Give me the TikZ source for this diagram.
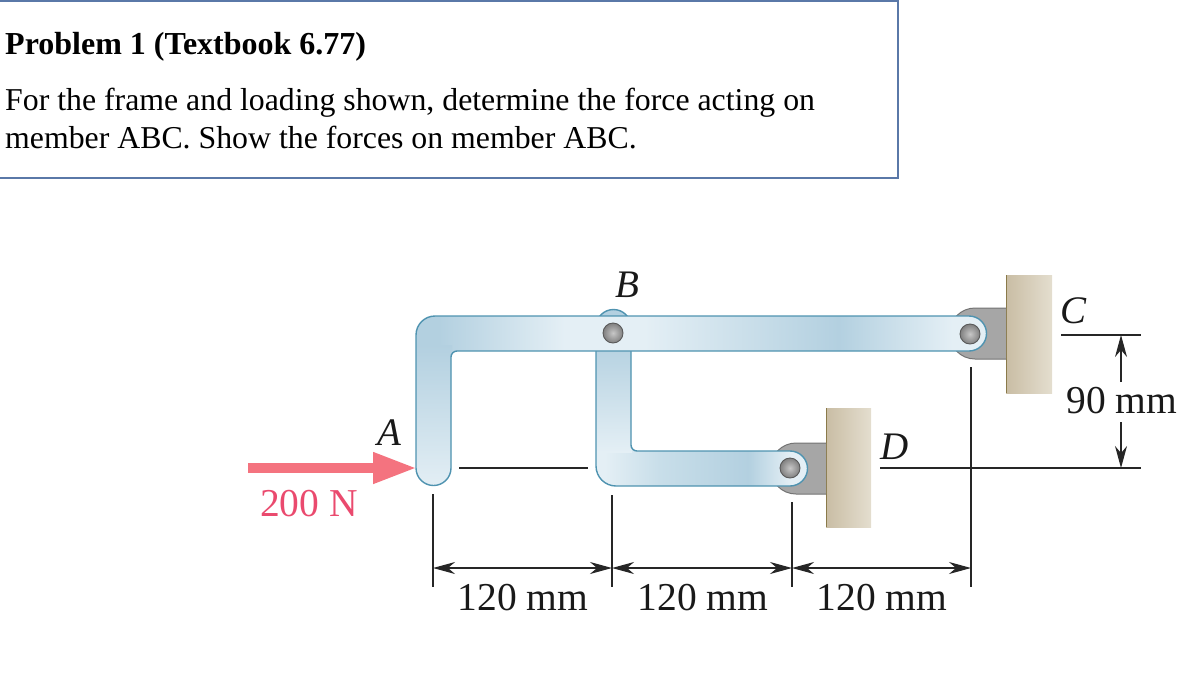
\documentclass[tikz,border=0pt]{standalone}
\usepackage{fontspec}
\setmainfont{Liberation Serif}
\usetikzlibrary{arrows.meta}

\definecolor{edgeblue}{HTML}{4F93B0}
\definecolor{framebox}{HTML}{5A78A8}
\definecolor{forcered}{HTML}{F4737F}
\definecolor{labelred}{HTML}{EA4A6E}
\definecolor{wallbrown}{HTML}{8A7A4A}
\definecolor{walldark}{HTML}{C9BDA4}
\definecolor{walllight}{HTML}{E4DECF}
\definecolor{bardark}{HTML}{B3D0E0}
\definecolor{barmid}{HTML}{C8DEE9}
\definecolor{barlight}{HTML}{E4EFF5}
\pgfdeclarehorizontalshading{upperbar}{100bp}{
  color(0bp)=(bardark); color(27bp)=(bardark); color(38bp)=(barlight);
  color(45bp)=(barlight); color(62bp)=(bardark); color(72bp)=(barlight); color(100bp)=(barlight)}
\pgfdeclarehorizontalshading{lowerbar}{100bp}{
  color(0bp)=(barlight); color(27bp)=(barlight); color(40bp)=(barmid);
  color(61bp)=(bardark); color(71bp)=(barlight); color(100bp)=(barlight)}
\newcommand{\upperpath}{(416,335) arc (180:270:19) -- (969,316) arc (-90:90:17.5) -- (457,351)
  arc (270:180:6) -- (451,468) arc (0:180:17.5) -- cycle}
\newcommand{\lowerpath}{(596,327) arc (180:360:17.5) -- (631,445) arc (180:90:6) -- (790,451)
  arc (-90:90:17.5) -- (616,486) arc (90:180:20) -- cycle}
\tikzset{
  member/.style={draw=edgeblue, line width=1.4pt, line join=round},
  pin/.style={circle, draw=black!65, line width=0.9pt, inner sep=0pt, minimum size=20pt,
    inner color=black!22, outer color=black!50},
  wall/.style={left color=walldark, right color=walllight, draw=none},
  bracket/.style={draw=black!55, line width=1pt, left color=black!35, middle color=black!15, right color=black!35},
  dimline/.style={draw=black!85, line width=1.3pt},
  dimtip/.style={-{Stealth[length=22pt,width=12pt,inset=7pt]}},
  dimarrow/.style={dimline, {Stealth[length=22pt,width=12pt,inset=7pt]}-{Stealth[length=22pt,width=12pt,inset=7pt]}},
  dimtext/.style={font=\fontsize{39.5}{39.5}\selectfont, text=black!90, inner sep=0pt},
  point/.style={font=\fontsize{39}{39}\selectfont\itshape, text=black!90, inner sep=0pt},
  prose/.style={font=\fontsize{31.8}{38}\selectfont, anchor=west, inner sep=0pt, align=left}
}

\begin{document}
\begin{tikzpicture}[x=1pt, y=-1pt]
\useasboundingbox (0,0) rectangle (1198,694);

% statement box
\draw[framebox, line width=1.4pt] (-3,1) rectangle (898,178);
\node[prose, font=\fontsize{32}{38}\selectfont\bfseries] (title) at (5,47) {Problem 1 (Textbook 6.77)};
\node[prose] (statement) at (5,119) {For the frame and loading shown, determine the force acting on\\member ABC. Show the forces on member ABC.};

% walls and brackets
\fill[wall] (1006,275) rectangle (1052,393);
\draw[wallbrown, line width=1pt] (1006,275) -- (1006,393);
\fill[wall] (826,408) rectangle (871,527);
\draw[wallbrown, line width=1pt] (826,408) -- (826,527);
\path[bracket] (1006,308) -- (975,308) arc (270:90:25.5) -- (1006,359);
\path[bracket] (826,443) -- (796,443) arc (270:90:25.5) -- (826,494);

% lower member
\shade[shading=lowerbar] \lowerpath;
\begin{scope}
  \clip \lowerpath;
  \fill[bardark] (596,305) rectangle (632,341);
  \shade[top color=bardark, bottom color=barlight] (596,340) rectangle (632,452);
\end{scope}
\draw[member] \lowerpath;

% upper member
\shade[shading=upperbar] \upperpath;
\begin{scope}
  \clip \upperpath;
  \shade[top color=bardark, bottom color=barlight] (416,345) rectangle (452,490);
\end{scope}
\draw[member] \upperpath;

% pins
\node[pin] (pinB) at (613,333) {};
\node[pin] (pinC) at (970,334) {};
\node[pin] (pinD) at (790,468) {};

% labels
\node[point] (labelA) at (389,433) {A};
\node[point] (labelB) at (627,285) {B};
\node[point] (labelC) at (1073,311) {C};
\node[point] (labelD) at (895,447) {D};

% force
\coordinate (tail) at (248,468);
\coordinate (tip) at (417,468);
\draw[forcered, line width=10pt, -{Triangle[length=44pt,width=29pt]}] (tail) -- (tip);
\node[dimtext, text=labelred] (force) at (309,504) {200 N};

% extension lines
\coordinate (A1) at (459,468);
\coordinate (A2) at (588,468);
\coordinate (D1) at (880,468);
\coordinate (D2) at (1141,468);
\coordinate (C1) at (1061,335);
\coordinate (C2) at (1141,335);
\draw[dimline] (A1) -- (A2);
\draw[dimline] (D1) -- (D2);
\draw[dimline] (C1) -- (C2);
\coordinate (xa1) at (433,494);
\coordinate (xa2) at (433,587);
\coordinate (xb1) at (612,495);
\coordinate (xb2) at (612,587);
\coordinate (xd1) at (792,502);
\coordinate (xd2) at (792,587);
\coordinate (xc1) at (971,367);
\coordinate (xc2) at (971,587);
\draw[dimline] (xa1) -- (xa2);
\draw[dimline] (xb1) -- (xb2);
\draw[dimline] (xd1) -- (xd2);
\draw[dimline] (xc1) -- (xc2);

% dimensions
\coordinate (da) at (433,568);
\coordinate (db) at (612,568);
\coordinate (dd) at (792,568);
\coordinate (dc) at (971,568);
\draw[dimarrow] (da) -- (db);
\draw[dimarrow] (db) -- (dd);
\draw[dimarrow] (dd) -- (dc);
\node[dimtext] (dim1) at (523,598) {120 mm};
\node[dimtext] (dim2) at (703,598) {120 mm};
\node[dimtext] (dim3) at (882,598) {120 mm};
\node[dimtext] (dim4) at (1122,401) {90 mm};
\coordinate (vtop) at (1121,335);
\coordinate (vbot) at (1121,468);
\coordinate (vtopin) at (1121,382);
\coordinate (vbotin) at (1121,422);
\draw[dimline, dimtip] (vtopin) -- (vtop);
\draw[dimline, dimtip] (vbotin) -- (vbot);
\end{tikzpicture}
\end{document}
